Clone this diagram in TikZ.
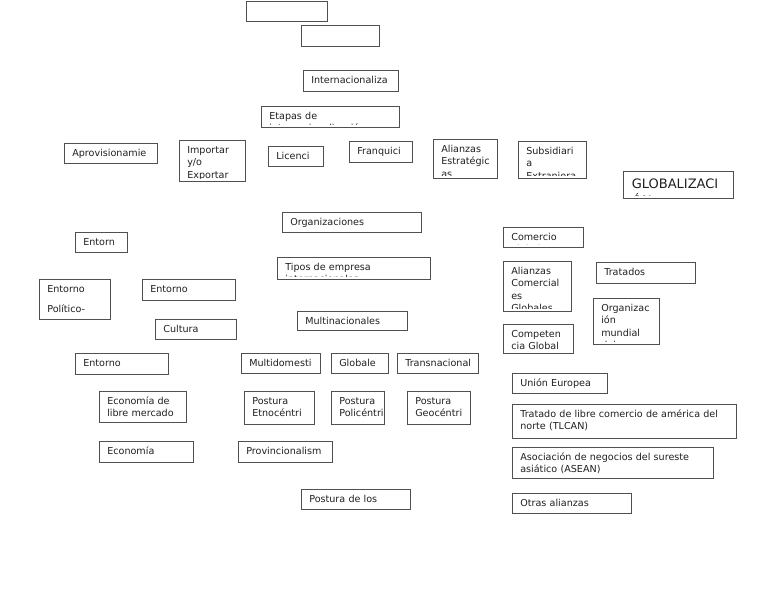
\documentclass[tikz,border=0pt]{standalone}
\usepackage{fontspec}
\setmainfont{DejaVu Sans}
\definecolor{edgegray}{HTML}{505050}
\definecolor{inkgray}{HTML}{202020}
\tikzset{
  box/.style={rectangle, draw=edgegray, line width=0.8pt, inner sep=0pt, anchor=north west},
  dims/.style 2 args={minimum width=#1pt, minimum height=#2pt},
  lbl/.style={anchor=base west, inner sep=0pt, minimum width=0pt, minimum height=0pt, text width=230pt, align=left, text=inkgray, font=\fontsize{9.6}{12.5}\selectfont},
  words/.style={path picture={
      \clip ([yshift=2.8pt]path picture bounding box.south west) rectangle (path picture bounding box.north east);
      \node[lbl] at ([xshift=7.5pt, yshift=-13pt]path picture bounding box.north west) {#1};}},
  wordsbig/.style={path picture={
      \clip ([yshift=2.8pt]path picture bounding box.south west) rectangle (path picture bounding box.north east);
      \node[lbl, font=\fontsize{13}{17}\selectfont] at ([xshift=8pt, yshift=-17pt]path picture bounding box.north west) {#1};}}
  }

\begin{document}
\begin{tikzpicture}[x=1pt, y=-1pt]
	% Frame
	\path[use as bounding box, fill=white] (0,0) rectangle (768,594);

	% Nodes: top
	\node[box, dims={81}{20}] (blankA) at (246,1) {};
	\node[box, dims={78}{21}] (blankB) at (301,25) {};
	\node[box, dims={95}{21}, words={Internacionaliza}] (intl) at (303,70) {};
	\node[box, dims={138}{21}, words={Etapas de\\internacionalización}] (etapas) at (261,106) {};

	% Nodes: stages
	\node[box, dims={93}{20}, words={Aprovisionamie}] (aprov) at (64,143) {};
	\node[box, dims={66}{41}, words={Importar\\y/o\\Exportar}] (importar) at (179,140) {};
	\node[box, dims={55}{20}, words={Licenci}] (licencia) at (268,146) {};
	\node[box, dims={63}{21}, words={Franquici}] (franquicia) at (349,141) {};
	\node[box, dims={64}{39}, words={Alianzas\\Estratégic\\as}] (alianzasE) at (433,139) {};
	\node[box, dims={68}{37}, words={Subsidiari\\a\\Extranjera}] (subsid) at (518,141) {};
	\node[box, dims={110}{27}, wordsbig={GLOBALIZACI\\ÓN}] (glob) at (623,171) {};

	% Nodes: organizations
	\node[box, dims={139}{20}, words={Organizaciones}] (organiz) at (282,212) {};
	\node[box, dims={153}{22}, words={Tipos de empresa\\internacionales}] (tipos) at (277,257) {};
	\node[box, dims={110}{19}, words={Multinacionales}] (multinac) at (297,311) {};
	\node[box, dims={79}{20}, words={Multidomesti}] (multidom) at (241,353) {};
	\node[box, dims={57}{20}, words={Globale}] (globale) at (331,353) {};
	\node[box, dims={81}{20}, words={Transnacional}] (transn) at (397,353) {};
	\node[box, dims={70}{33}, words={Postura\\Etnocéntri}] (postEtno) at (244,391) {};
	\node[box, dims={53}{33}, words={Postura\\Policéntri}] (postPoli) at (331,391) {};
	\node[box, dims={63}{33}, words={Postura\\Geocéntri}] (postGeo) at (407,391) {};
	\node[box, dims={94}{21}, words={Provincionalism}] (provinc) at (238,441) {};
	\node[box, dims={109}{20}, words={Postura de los}] (postLos) at (301,489) {};

	% Nodes: environment
	\node[box, dims={52}{20}, words={Entorn}] (entorn) at (75,232) {};
	\node[box, dims={71}{40}, words={Entorno\\[7.5pt]Político-}] (entPol) at (39,279) {};
	\node[box, dims={93}{21}, words={Entorno}] (entornoB) at (142,279) {};
	\node[box, dims={81}{20}, words={Cultura}] (cultura) at (155,319) {};
	\node[box, dims={93}{21}, words={Entorno}] (entornoC) at (75,353) {};
	\node[box, dims={87}{31}, words={Economía de\\libre mercado}] (econLibre) at (99,391) {};
	\node[box, dims={94}{21}, words={Economía}] (econ) at (99,441) {};

	% Nodes: global trade
	\node[box, dims={80}{20}, words={Comercio\\global}] (comercio) at (503,227) {};
	\node[box, dims={68}{50}, words={Alianzas\\Comercial\\es\\Globales}] (alianzasC) at (503,261) {};
	\node[box, dims={99}{21}, words={Tratados}] (tratados) at (596,262) {};
	\node[box, dims={66}{46}, words={Organizac\\ión\\mundial\\del}] (omc) at (593,298) {};
	\node[box, dims={70}{29}, words={Competen\\cia Global}] (competen) at (503,324) {};
	\node[box, dims={95}{20}, words={Unión Europea}] (union) at (512,373) {};
	\node[box, dims={224}{34}, words={Tratado de libre comercio de américa del\\norte (TLCAN)}] (tlcan) at (512,404) {};
	\node[box, dims={201}{31}, words={Asociación de negocios del sureste\\asiático (ASEAN)}] (asean) at (512,447) {};
	\node[box, dims={119}{20}, words={Otras alianzas}] (otras) at (512,493) {};
\end{tikzpicture}
\end{document}
